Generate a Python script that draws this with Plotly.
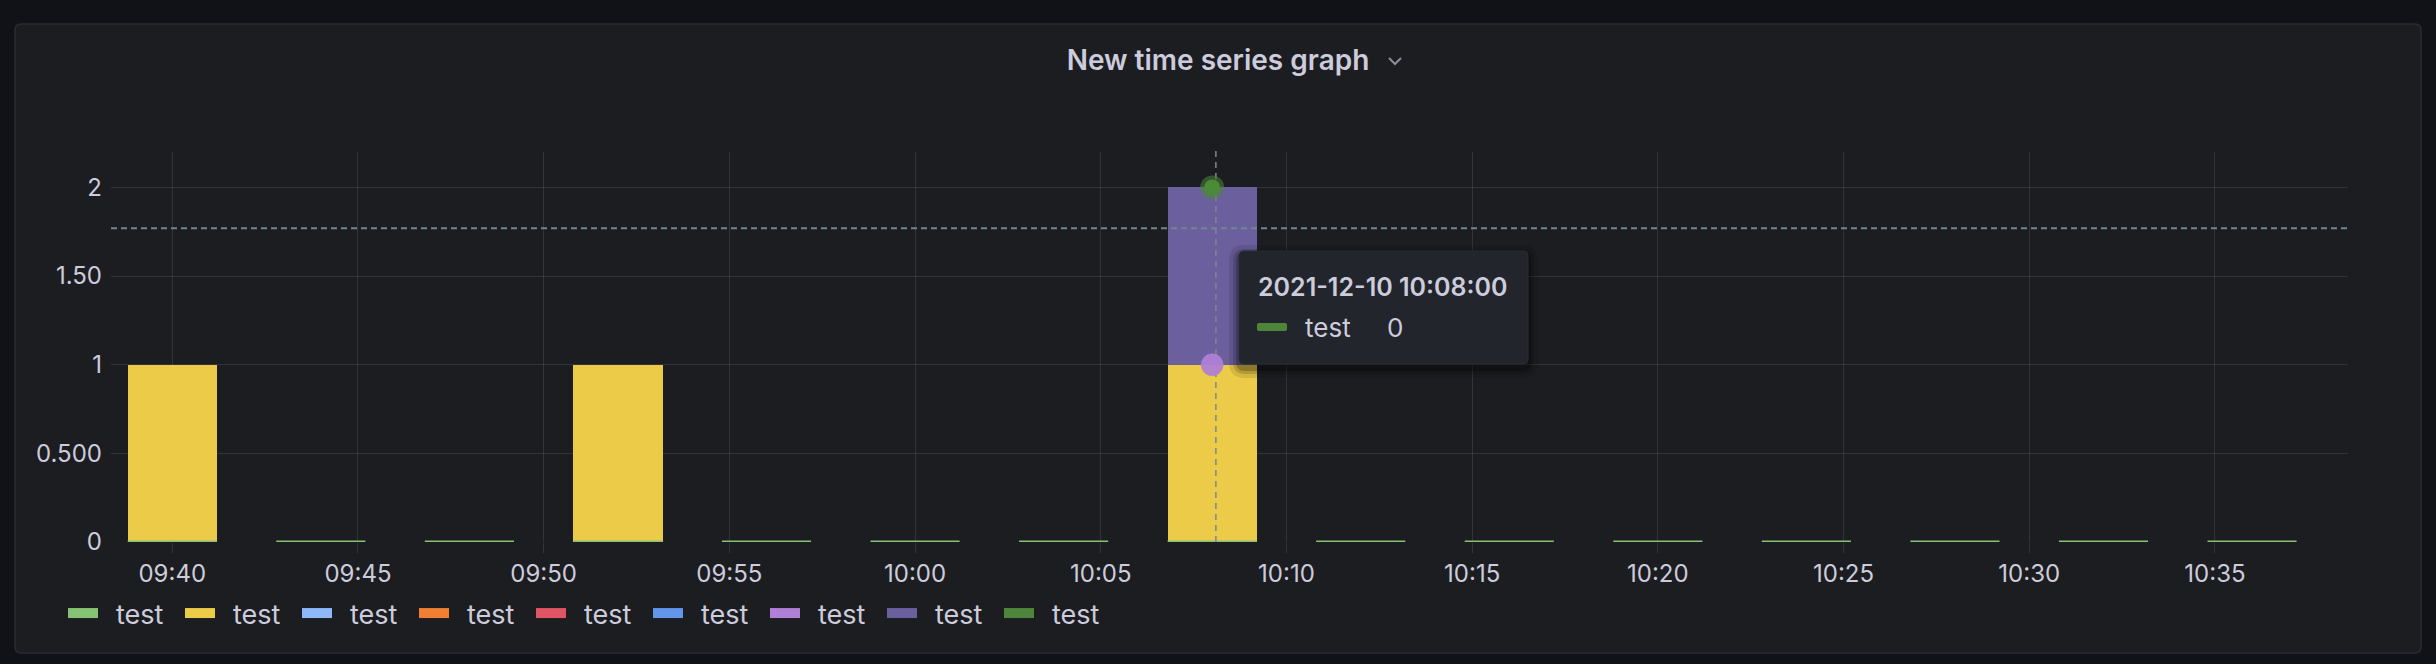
import pandas as pd
import plotly.graph_objects as go

# ---------------- data ----------------
TIMES = [
    "2021-12-10 09:40:00", "2021-12-10 09:44:00", "2021-12-10 09:48:00",
    "2021-12-10 09:52:00", "2021-12-10 09:56:00", "2021-12-10 10:00:00",
    "2021-12-10 10:04:00", "2021-12-10 10:08:00", "2021-12-10 10:12:00",
    "2021-12-10 10:16:00", "2021-12-10 10:20:00", "2021-12-10 10:24:00",
    "2021-12-10 10:28:00", "2021-12-10 10:32:00", "2021-12-10 10:36:00",
]
N = None
S1_GREEN = [0, 0, 0, 0, 0, 0, 0, 0, 0, 0, 0, 0, 0, 0, 0]
S2_YELLOW = [1, 0, 0, 1, 0, 0, 0, 1, 0, 0, 0, 0, 0, 0, 0]
S3_LIGHTBLUE = [N, N, N, N, N, N, N, N, N, N, N, N, N, N, N]
S4_ORANGE = [N, N, N, N, N, N, N, N, N, N, N, N, N, N, N]
S5_RED = [N, N, N, N, N, N, N, N, N, N, N, N, N, N, N]
S6_BLUE = [N, N, N, N, N, N, N, N, N, N, N, N, N, N, N]
S7_PURPLE = [N, N, N, N, N, N, N, 0, N, N, N, N, N, N, N]
S8_DARKPURPLE = [N, N, N, N, N, N, N, 1, N, N, N, N, N, N, N]
S9_DARKGREEN = [N, N, N, N, N, N, N, 0, N, N, N, N, N, N, N]

SERIES = [S1_GREEN, S2_YELLOW, S3_LIGHTBLUE, S4_ORANGE, S5_RED,
          S6_BLUE, S7_PURPLE, S8_DARKPURPLE, S9_DARKGREEN]
SERIES_NAMES = ["test", "test", "test", "test", "test", "test", "test", "test", "test"]
SERIES_COLORS = ["#86C274", "#EBCB47", "#8DB8F9", "#EE7F33", "#E05463",
                 "#6196EB", "#B07FD6", "#6C5F9E", "#4D863B"]

Y_TICK_VALS = [0, 0.5, 1, 1.5, 2]
Y_TICK_TEXT = ["0", "0.500", "1", "1.50", "2"]
THRESHOLD = 1.77
HOVER_TIME = "2021-12-10 10:08:00"
CURSOR_TIME = "2021-12-10 10:08:06"
TOOLTIP_SERIES = 8
TITLE = "New time series graph"
X_RANGE = ["2021-12-10 09:38:21", "2021-12-10 10:38:35"]
Y_RANGE = [0, 2.2]

# ---------------- style ----------------
W, H = 2436, 664
PL, PR, PT, PB = 111, 2348, 152, 542
FONT = "Inter"
TXT = "#CCCCDC"
GRID = "rgba(240,250,255,0.10)"
PANEL = "#1C1D21"
OUTER = "#111217"


def px(x):
    return (x - PL) / (PR - PL)


def py(y):
    return (PB - y) / (PB - PT)


def rr_path(x0, y0, x1, y1, r):
    p = lambda x, y: f"{px(x):.6f},{py(y):.6f}"
    return (f"M{p(x0 + r, y0)} L{p(x1 - r, y0)} Q{p(x1, y0)} {p(x1, y0 + r)} "
            f"L{p(x1, y1 - r)} Q{p(x1, y1)} {p(x1 - r, y1)} L{p(x0 + r, y1)} "
            f"Q{p(x0, y1)} {p(x0, y1 - r)} L{p(x0, y0 + r)} Q{p(x0, y0)} {p(x0 + r, y0)} Z")


times = pd.to_datetime(TIMES)
interval_ms = (times[1] - times[0]).total_seconds() * 1000
bar_w_ms = interval_ms * 0.6
px_per_ms = (PR - PL) / ((pd.Timestamp(X_RANGE[1]) - pd.Timestamp(X_RANGE[0])).total_seconds() * 1000)
bar_w_px = bar_w_ms * px_per_ms

fig = go.Figure()

# stacked bars
for name, vals, col in zip(SERIES_NAMES, SERIES, SERIES_COLORS):
    fig.add_trace(go.Bar(x=TIMES, y=vals, width=bar_w_ms, name=name,
                         marker=dict(color=col, line=dict(width=0)),
                         showlegend=False, hoverinfo="skip"))

# zero-valued green bars drawn as thin strokes (as Grafana does)
# plotly's line-ew symbol spans 1.4 * size
fig.add_trace(go.Scatter(
    x=[t for t, v in zip(TIMES, S1_GREEN) if v == 0],
    y=[v for v in S1_GREEN if v == 0],
    mode="markers",
    marker=dict(symbol="line-ew", size=bar_w_px / 1.4,
                line=dict(color=SERIES_COLORS[0], width=3)),
    showlegend=False, hoverinfo="skip"))

# legend entries (30px x 10px swatches)
for name, col in zip(SERIES_NAMES, SERIES_COLORS):
    fig.add_trace(go.Scatter(x=[None], y=[None], mode="lines", name=name,
                             line=dict(color=col, width=10, dash="30px,300px"),
                             showlegend=True))

shapes = []
# outer panel
shapes.append(dict(type="path", xref="paper", yref="paper", layer="below",
                   path=rr_path(15, 24, 2421, 653, 6),
                   fillcolor=PANEL, line=dict(color="#2A2B30", width=1.5)))
# title chevron
shapes.append(dict(type="path", xref="paper", yref="paper",
                   path=f"M{px(1389):.6f},{py(58):.6f} L{px(1395):.6f},{py(64):.6f} L{px(1401):.6f},{py(58):.6f}",
                   line=dict(color="#8E8E9A", width=2)))
# threshold line
shapes.append(dict(type="line", xref="paper", yref="y", x0=0, x1=1,
                   y0=THRESHOLD, y1=THRESHOLD, layer="above",
                   line=dict(color="#6E8693", width=2, dash="6px,4px")))
# crosshair
shapes.append(dict(type="line", xref="x", yref="paper", x0=CURSOR_TIME, x1=CURSOR_TIME,
                   y0=0, y1=py(148), layer="above",
                   line=dict(color="#788893", width=1.5, dash="6px,5px")))

# hover dots at the stacked positions
hidx = TIMES.index(HOVER_TIME)
cum = 0
stack_pos = []
for vals in SERIES:
    v = vals[hidx]
    if v is not None:
        cum += v
    stack_pos.append(cum if v is not None else None)

purple_y = stack_pos[6]
green_y = stack_pos[8]
shapes.append(dict(type="circle", xref="x", yref="y", xsizemode="pixel", ysizemode="pixel",
                   xanchor=HOVER_TIME, yanchor=purple_y, x0=-11, x1=11, y0=-11, y1=11,
                   layer="above", fillcolor="rgba(176,127,214,0.95)",
                   line=dict(color="rgba(176,127,214,0.5)", width=1)))
shapes.append(dict(type="circle", xref="x", yref="y", xsizemode="pixel", ysizemode="pixel",
                   xanchor=HOVER_TIME, yanchor=green_y, x0=-12, x1=12, y0=-12, y1=12,
                   layer="above", fillcolor="rgba(77,134,59,0.55)",
                   line=dict(width=0)))
shapes.append(dict(type="circle", xref="x", yref="y", xsizemode="pixel", ysizemode="pixel",
                   xanchor=HOVER_TIME, yanchor=green_y, x0=-8, x1=8, y0=-8, y1=8,
                   layer="above", fillcolor="#4B8A36", line=dict(width=0)))

# tooltip
TX0, TY0, TX1, TY1 = 1239, 251, 1528, 364
for d, a in [(10, 0.10), (6, 0.15), (3, 0.22)]:
    shapes.append(dict(type="path", xref="paper", yref="paper", layer="above",
                       path=rr_path(TX0 - d, TY0 - d + 4, TX1 + d, TY1 + d + 4, 6 + d),
                       fillcolor=f"rgba(0,0,0,{a})", line=dict(width=0)))
shapes.append(dict(type="path", xref="paper", yref="paper", layer="above",
                   path=rr_path(TX0, TY0, TX1, TY1, 5),
                   fillcolor="#22252B", line=dict(color="#2A2D33", width=1)))
shapes.append(dict(type="path", xref="paper", yref="paper", layer="above",
                   path=rr_path(1257, 323, 1287, 331, 2),
                   fillcolor=SERIES_COLORS[TOOLTIP_SERIES], line=dict(width=0)))

annotations = [
    dict(xref="paper", yref="paper", x=px(1256), y=py(287), xanchor="left", yanchor="middle",
         text=pd.Timestamp(HOVER_TIME).strftime("%Y-%m-%d %H:%M:%S"), showarrow=False,
         font=dict(family=FONT, size=25, color=TXT, weight=600)),
    dict(xref="paper", yref="paper", x=px(1303), y=py(327), xanchor="left", yanchor="middle",
         text=SERIES_NAMES[TOOLTIP_SERIES], showarrow=False,
         font=dict(family=FONT, size=26, color=TXT)),
    dict(xref="paper", yref="paper", x=px(1385), y=py(327), xanchor="left", yanchor="middle",
         text=str(SERIES[TOOLTIP_SERIES][hidx]), showarrow=False,
         font=dict(family=FONT, size=26, color=TXT)),
]

fig.update_layout(
    width=W, height=H, autosize=False,
    margin=dict(l=PL, r=W - PR, t=PT, b=H - PB, pad=0),
    paper_bgcolor=OUTER, plot_bgcolor="rgba(0,0,0,0)",
    barmode="stack", bargap=0,
    font=dict(family=FONT, color=TXT, size=24),
    title=dict(text=TITLE, x=1218 / W, xanchor="center", y=1 - 60 / H, yanchor="middle",
               xref="container", yref="container",
               font=dict(family=FONT, size=28, color=TXT, weight=600)),
    xaxis=dict(type="date", range=X_RANGE, showgrid=True, gridcolor=GRID, gridwidth=1,
               dtick=300000, tick0="2021-12-10 09:40:00", tickformat="%H:%M",
               ticks="outside", ticklen=10, tickcolor=GRID, tickwidth=1,
               tickfont=dict(family=FONT, size=24, color=TXT),
               showline=False, zeroline=False, fixedrange=True),
    yaxis=dict(range=Y_RANGE, tickvals=Y_TICK_VALS, ticktext=Y_TICK_TEXT,
               showgrid=True, gridcolor=GRID, gridwidth=1, zeroline=False,
               showline=False, ticks="", ticklabelstandoff=8,
               tickfont=dict(family=FONT, size=24, color=TXT), fixedrange=True),
    legend=dict(orientation="h", x=px(63), xanchor="left", y=py(589), yanchor="top",
                traceorder="normal",
                font=dict(family=FONT, size=27, color=TXT), bgcolor="rgba(0,0,0,0)",
                itemwidth=43, itemclick=False, itemdoubleclick=False,
                entrywidth=59, entrywidthmode="pixels", tracegroupgap=0),
    shapes=shapes,
    annotations=annotations,
    hovermode=False,
)

fig.write_html("out.html", config={"displayModeBar": False},
               post_script="document.body.style.margin='0';document.body.style.overflow='hidden';")
